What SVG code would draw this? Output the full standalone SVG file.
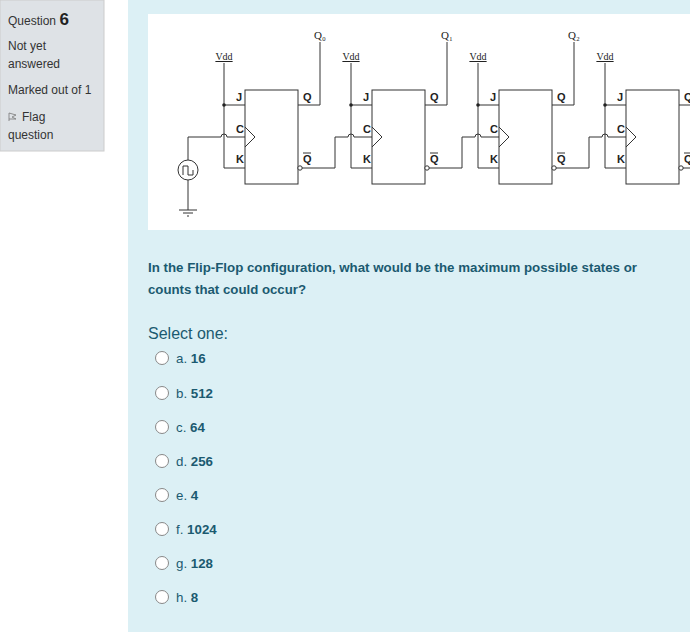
<svg xmlns="http://www.w3.org/2000/svg" width="690" height="635" viewBox="0 0 690 635">
<style>
text{font-family:"Liberation Sans",Arial,sans-serif}
.w{stroke:#333;stroke-width:1;fill:none}
.box{stroke:#333;stroke-width:1;fill:#fff}
.pin{font-size:11px;font-weight:bold;fill:#222}
.vdd{font-family:"Liberation Serif",serif;font-size:10px;fill:#222;text-decoration:underline}
.q{font-family:"Liberation Serif",serif;font-size:11px;fill:#222}
.side{font-size:12px;fill:#333}
.t{fill:#1b5a70;font-size:13px}
.opt{fill:#1b5a70;font-size:13.3px}
.r{fill:#fff;stroke:#888;stroke-width:1}
</style>
<defs>
<g id="ff">
<rect class="box" x="0" y="0" width="53" height="94"/>
<path class="w" d="M0,37 L10,47 L0,57"/>
<text class="pin" x="-9" y="11">J</text>
<text class="pin" x="-9" y="43">C</text>
<text class="pin" x="-9" y="73">K</text>
<text class="pin" x="58" y="11">Q</text>
<text class="pin" x="58" y="73">Q</text>
<line class="w" x1="58" y1="63" x2="66" y2="63"/>
<circle class="box" cx="55" cy="78" r="2.2"/>
<path class="w" d="M-21,-27 V78 H0 M-21,15 H0"/>
<circle cx="-21" cy="15" r="1.8" fill="#222"/>
<text class="vdd" x="-21" y="-30" text-anchor="middle">Vdd</text>
<path class="w" d="M53,15 H75 V-48"/>
</g>
</defs>
<rect x="0" y="0" width="104" height="151" fill="#dee2e6" stroke="#ccc"/>
<text class="side" x="8" y="25">Question <tspan style="font-size:17px;font-weight:bold;fill:#222">6</tspan></text>
<text class="side" x="8" y="50">Not yet</text>
<text class="side" x="8" y="68">answered</text>
<text class="side" x="8" y="94">Marked out of 1</text>
<path d="M9,113 V121 M9,113 L16,115 L12,117 L16,119 L9,119" stroke="#777" fill="none" stroke-width="0.8"/>
<text class="side" x="22" y="121">Flag</text>
<text class="side" x="8" y="139">question</text>
<rect x="128" y="0" width="562" height="632" fill="#dcf0f5"/>
<rect x="148" y="14" width="542" height="216" fill="#fff"/>
<g id="circuit">
<use href="#ff" x="245" y="90"/>
<use href="#ff" x="372" y="90"/>
<use href="#ff" x="499" y="90"/>
<use href="#ff" x="626" y="90"/>
<text class="q" x="320" y="39" text-anchor="middle">Q₀</text>
<text class="q" x="447" y="39" text-anchor="middle">Q₁</text>
<text class="q" x="574" y="39" text-anchor="middle">Q₂</text>
</g>
<g id="connectors">
<path class="w" d="M188,160 V137 H221 A3,3 0 0 1 227,137 H245"/>
<path class="w" d="M302,168 H335 V137 H348 A3,3 0 0 1 354,137 H372"/>
<path class="w" d="M429,168 H462 V137 H475 A3,3 0 0 1 481,137 H499"/>
<path class="w" d="M556,168 H589 V137 H602 A3,3 0 0 1 608,137 H626"/>
<path class="w" d="M683,168 H690"/>
<circle class="box" cx="188" cy="170" r="10"/>
<path class="w" d="M183,175 V166 H188 V175 H193 V170"/>
<path class="w" d="M188,180 V210 M179,210 H197 M183,213 H193 M187,216 H189"/>
</g>
<text class="t" font-weight="bold" x="148" y="272" textLength="489" lengthAdjust="spacingAndGlyphs">In the Flip-Flop configuration, what would be the maximum possible states or</text>
<text class="t" font-weight="bold" x="148" y="294" textLength="158" lengthAdjust="spacingAndGlyphs">counts that could occur?</text>
<text class="t" style="font-size:16px" x="148" y="339">Select one:</text>
<g>
<circle class="r" cx="162" cy="358" r="6.5"/><text class="opt" x="176" y="363">a. <tspan font-weight="bold">16</tspan></text>
<circle class="r" cx="162" cy="393" r="6.5"/><text class="opt" x="176" y="398">b. <tspan font-weight="bold">512</tspan></text>
<circle class="r" cx="162" cy="427" r="6.5"/><text class="opt" x="176" y="432">c. <tspan font-weight="bold">64</tspan></text>
<circle class="r" cx="162" cy="461" r="6.5"/><text class="opt" x="176" y="466">d. <tspan font-weight="bold">256</tspan></text>
<circle class="r" cx="162" cy="495" r="6.5"/><text class="opt" x="176" y="500">e. <tspan font-weight="bold">4</tspan></text>
<circle class="r" cx="162" cy="529" r="6.5"/><text class="opt" x="176" y="534">f. <tspan font-weight="bold">1024</tspan></text>
<circle class="r" cx="162" cy="563" r="6.5"/><text class="opt" x="176" y="568">g. <tspan font-weight="bold">128</tspan></text>
<circle class="r" cx="162" cy="597" r="6.5"/><text class="opt" x="176" y="602">h. <tspan font-weight="bold">8</tspan></text>
</g>
</svg>
